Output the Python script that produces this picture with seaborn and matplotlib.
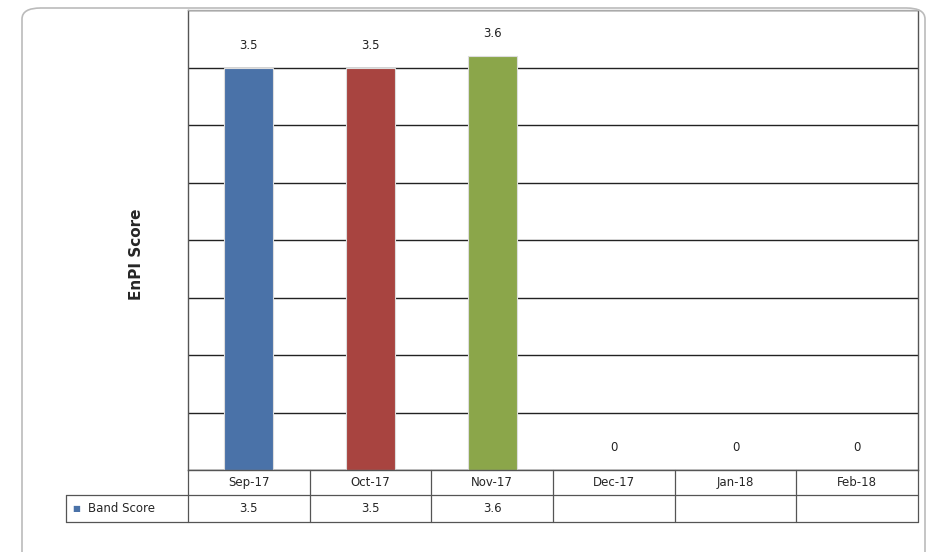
import matplotlib
matplotlib.use("Agg")
import matplotlib.pyplot as plt
import seaborn as sns
import pandas as pd
from matplotlib.patches import FancyBboxPatch

categories = ["Sep-17", "Oct-17", "Nov-17", "Dec-17", "Jan-18", "Feb-18"]
values = [3.5, 3.5, 3.6, 0, 0, 0]
table_vals = ["3.5", "3.5", "3.6", "", "", ""]
colors = ["#4A72A8", "#A84440", "#8BA64A", "#4A72A8", "#4A72A8", "#4A72A8"]

sns.set_style("white")
plt.rcParams['font.family'] = ['DejaVu Sans']
fig = plt.figure(figsize=(9.4, 5.52), dpi=100)
fig.patches.append(FancyBboxPatch((22/940, -0.05), 903/940, 1 - 8/552 + 0.05,
                                  boxstyle="round,pad=0,rounding_size=0.02",
                                  transform=fig.transFigure, fill=False,
                                  edgecolor="#BBBBBB", linewidth=1.2))
ax = fig.add_axes([188/940, 1 - 470/552, 730/940, 460/552])
df = pd.DataFrame({"cat": categories, "val": values})
sns.barplot(data=df, x="cat", y="val", hue="cat", palette=colors, legend=False,
            width=0.4, ax=ax, saturation=1, edgecolor="#DDDDDD", linewidth=0.8)
ax.set_ylim(0, 4)
ax.set_xlim(-0.5, 5.5)
ax.set_yticks([0.5 * i for i in range(9)])
ax.yaxis.grid(True, color="#222222", linewidth=1)
ax.set_axisbelow(True)
ax.set_yticklabels([])
ax.set_xticks([])
ax.set_xlabel("")
ax.set_ylabel("EnPI Score", fontsize=11, fontweight="bold", labelpad=18)
ax.yaxis.set_label_coords(-0.06, 0.47)
for s in ax.spines.values():
    s.set_color("#555555")
    s.set_linewidth(1)
ax.spines["top"].set_color("#AAAAAA")

for i, v in enumerate(values):
    ax.annotate(f"{v:g}", (i, v), xytext=(0, 16), textcoords="offset points",
                ha="center", va="center", fontsize=8.5, color="#222222")

# data table
h1 = 25 / 460
h2 = 52 / 460
lx = -122 / 730
tr = ax.transAxes
kw = dict(transform=tr, clip_on=False, color="#555555", linewidth=0.9)
ax.plot([0, 1], [-h1, -h1], **kw)
ax.plot([lx, 1], [-h2, -h2], **kw)
ax.plot([lx, 0], [-h1, -h1], **kw)
ax.plot([lx, lx], [-h1, -h2], **kw)
for i in range(7):
    ax.plot([i / 6, i / 6], [0, -h2], **kw)
for i, c in enumerate(categories):
    ax.text((i + 0.5) / 6, -h1 / 2, c, transform=tr, ha="center", va="center", fontsize=8.5)
    ax.text((i + 0.5) / 6, -(h1 + h2) / 2, table_vals[i], transform=tr, ha="center",
            va="center", fontsize=8.5)
ax.text(lx + 0.008, -(h1 + h2) / 2, "■", transform=tr, ha="left", va="center",
        fontsize=6, color="#4A72A8")
ax.text(lx + 0.03, -(h1 + h2) / 2, "Band Score", transform=tr, ha="left",
        va="center", fontsize=8.5)

fig.savefig("out.png", dpi=100)
